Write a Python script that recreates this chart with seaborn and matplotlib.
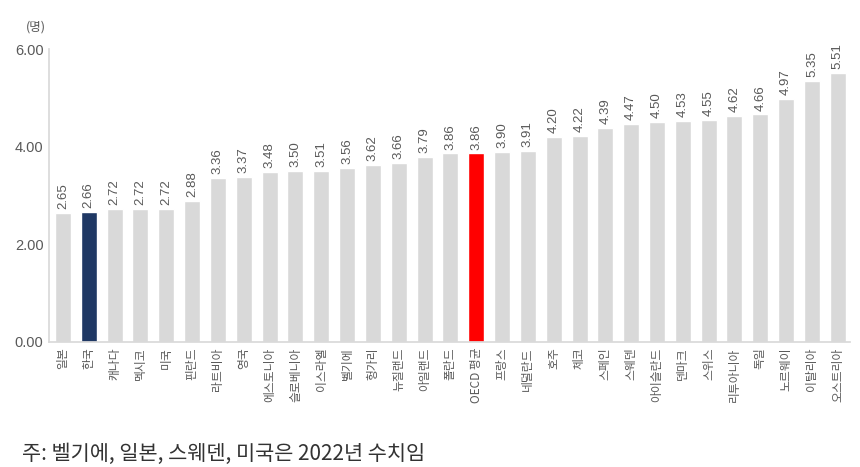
import pandas as pd
import matplotlib
matplotlib.use('Agg')
import matplotlib.pyplot as plt
import seaborn as sns

# --- DATA ---
countries = ['일본', '한국', '캐나다', '멕시코', '미국', '핀란드', '라트비아', '영국',
             '에스토니아', '슬로베니아', '이스라엘', '벨기에', '헝가리', '뉴질랜드',
             '아일랜드', '폴란드', 'OECD 평균', '프랑스', '네덜란드', '호주', '체코',
             '스페인', '스웨덴', '아이슬란드', '덴마크', '스위스', '리투아니아', '독일',
             '노르웨이', '이탈리아', '오스트리아']
values = [2.65, 2.66, 2.72, 2.72, 2.72, 2.88, 3.36, 3.37, 3.48, 3.50, 3.51, 3.56,
          3.62, 3.66, 3.79, 3.86, 3.86, 3.90, 3.91, 4.20, 4.22, 4.39, 4.47, 4.50,
          4.53, 4.55, 4.62, 4.66, 4.97, 5.35, 5.51]
y_ticks = [0, 2, 4, 6]
unit_label = '(명)'
note = '주: 벨기에, 일본, 스웨덴, 미국은 2022년 수치임'

GREY = '#d9d9d9'
KOREA = '#1f3864'
OECD = '#ff0000'
TEXT = '#595959'
KR_FONT = ['Noto Sans CJK KR', 'DejaVu Sans']

sns.set_theme(style='white')
plt.rcParams['font.family'] = ['Liberation Sans', 'Noto Sans CJK KR', 'DejaVu Sans']

df = pd.DataFrame({'country': countries, 'value': values})
palette = {c: (KOREA if c == '한국' else OECD if c == 'OECD 평균' else GREY) for c in countries}

fig = plt.figure(figsize=(8.6, 4.67), dpi=100)
ax = fig.add_axes([0.057, 0.268, 0.931, 0.627])

sns.barplot(data=df, x='country', y='value', hue='country', palette=palette,
            legend=False, width=0.62, saturation=1, ax=ax)

# value labels above each bar
for i, v in enumerate(values):
    ax.text(i, v + 0.08, f'{v:.2f}', rotation=90, ha='center', va='bottom',
            fontsize=9.5, color=TEXT)

ax.set_ylim(0, 6)
ax.set_xlim(-0.54, 30.46)
ax.set_yticks(y_ticks)
ax.set_yticklabels([f'{t:.2f}' for t in y_ticks], fontsize=10.5, color=TEXT)
ax.set_xticks(range(len(countries)))
ax.set_xticklabels(countries, rotation=90, fontsize=8.5, color=TEXT, family=KR_FONT)
ax.tick_params(axis='both', length=0, pad=4)
ax.set_xlabel('')
ax.set_ylabel('')

for s in ['top', 'right']:
    ax.spines[s].set_visible(False)
ax.spines['left'].set_color('#d9d9d9')
ax.spines['bottom'].set_color('#d9d9d9')

fig.text(0.03, 0.942, unit_label, fontsize=9, color=TEXT, ha='left', va='center',
         family=KR_FONT)
fig.text(0.025, 0.027, note, fontsize=15, color='#333333', ha='left', va='center',
         family=KR_FONT)

fig.savefig('out.png', dpi=100)
